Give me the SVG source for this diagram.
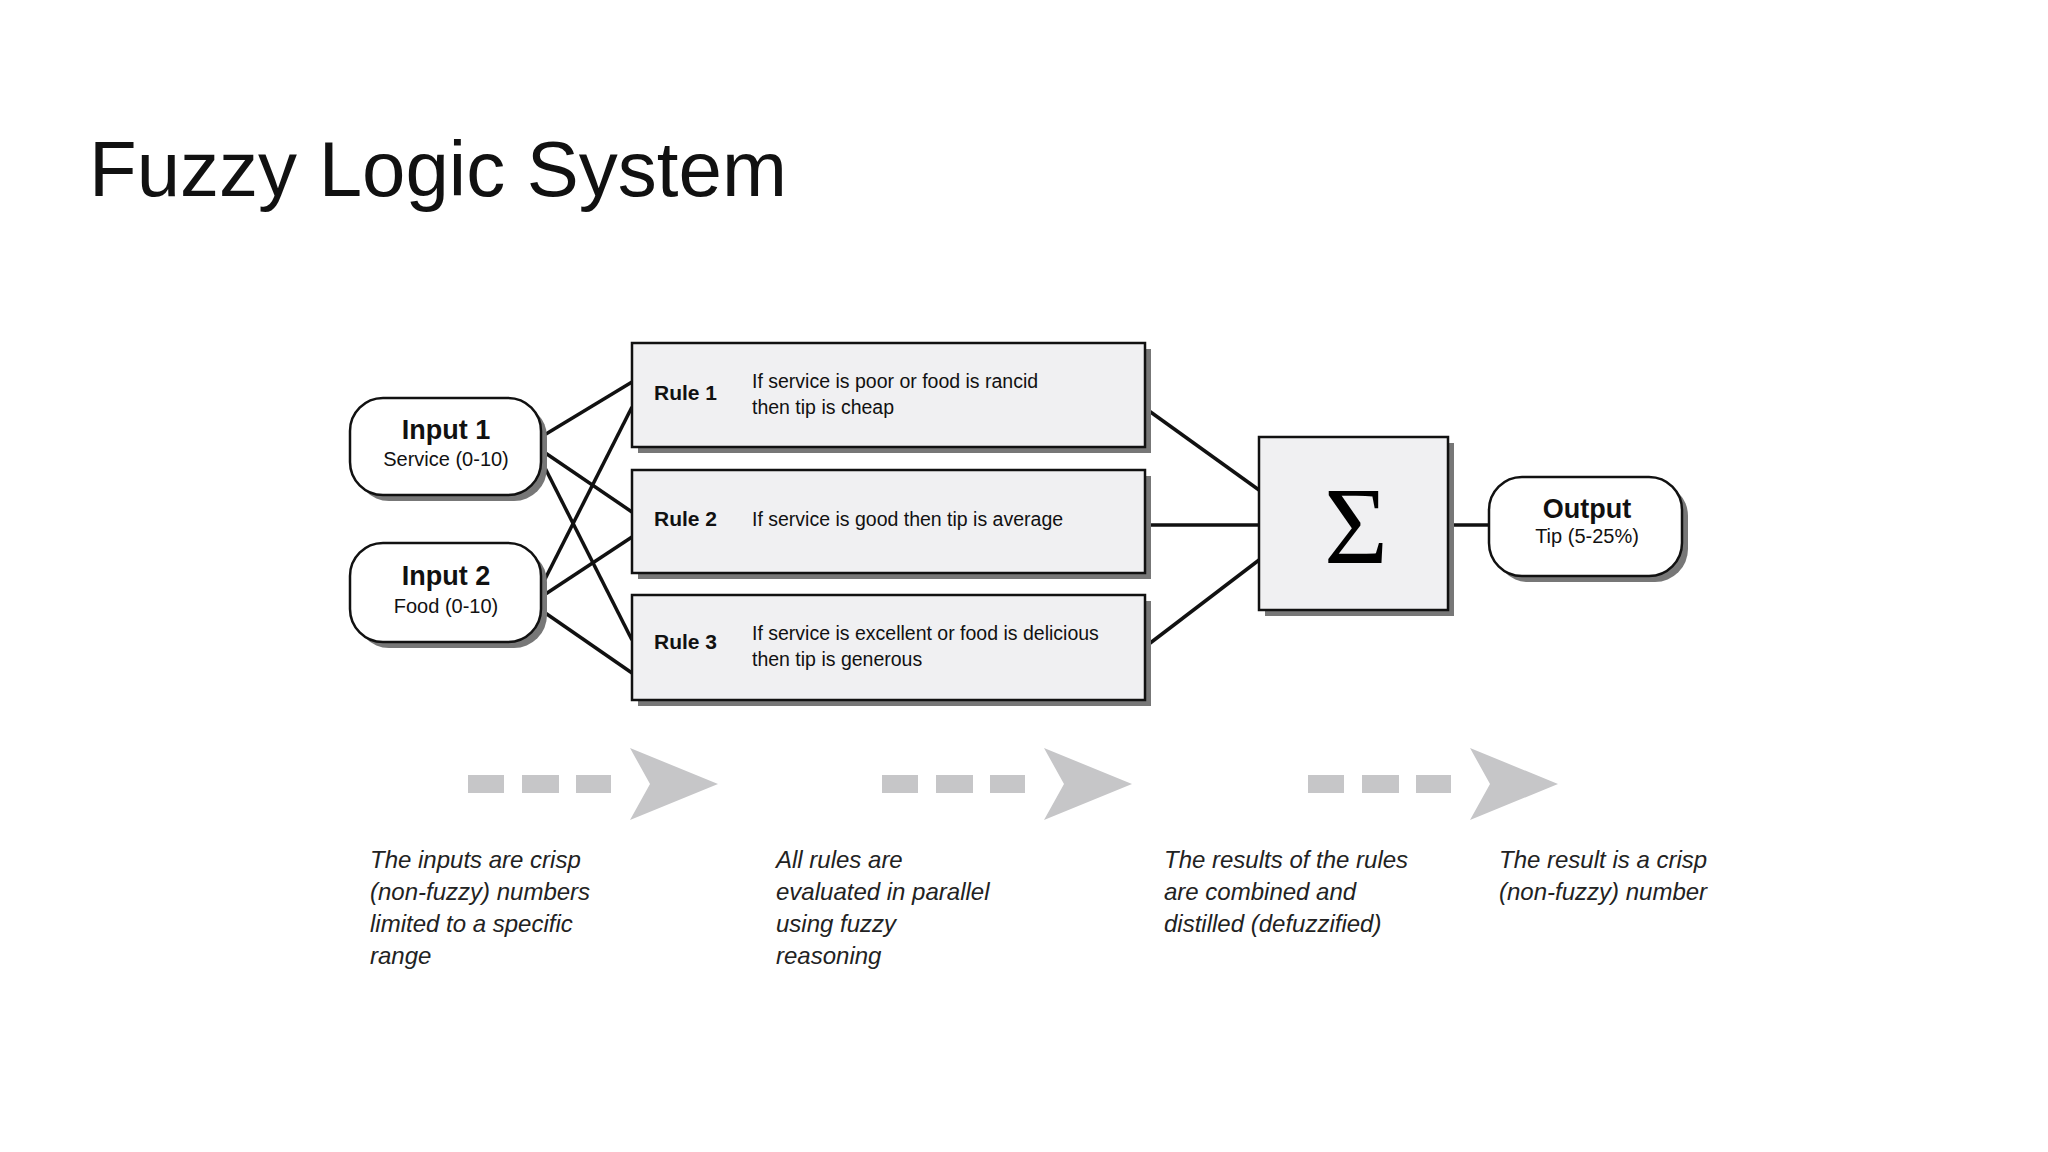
<svg xmlns="http://www.w3.org/2000/svg" width="2048" height="1152" viewBox="0 0 2048 1152">
<defs>
<style>
.box{fill:#f0f0f2;stroke:#111;stroke-width:2.5}
.rbox{fill:#fff;stroke:#111;stroke-width:2.5}
.sh{fill:#777}
.ln{stroke:#111;stroke-width:3.5;fill:none}
.t{font-family:"Liberation Sans",Arial,sans-serif;fill:#111}
.b{font-weight:bold}
.cap{font-family:"Liberation Sans",Arial,sans-serif;font-style:italic;font-size:24px;fill:#222}
.dash{fill:#c6c6c8}
</style>
<g id="arr"><rect class="dash" x="0" y="-9" width="36" height="18"/><rect class="dash" x="54" y="-9" width="37" height="18"/><rect class="dash" x="108" y="-9" width="35" height="18"/><polygon class="dash" points="162,-36 250,0 162,36 182,0"/></g>
</defs>
<rect width="2048" height="1152" fill="#fff"/>
<text class="t" x="89" y="196" font-size="78">Fuzzy Logic System</text>
<g id="connectors">
<line class="ln" x1="541" y1="437" x2="632" y2="382"/>
<line class="ln" x1="541" y1="450" x2="632" y2="512"/>
<line class="ln" x1="541" y1="460" x2="632" y2="640"/>
<line class="ln" x1="541" y1="587" x2="632" y2="407"/>
<line class="ln" x1="541" y1="597" x2="632" y2="537"/>
<line class="ln" x1="541" y1="610" x2="632" y2="673"/>
<line class="ln" x1="1145" y1="408" x2="1259" y2="490"/>
<line class="ln" x1="1145" y1="525" x2="1259" y2="525"/>
<line class="ln" x1="1145" y1="647" x2="1259" y2="560"/>
<line class="ln" x1="1448" y1="525" x2="1489" y2="525"/>
</g>
<g id="input1"><rect class="sh" x="356" y="404" width="191" height="97" rx="33"/><rect class="rbox" x="350" y="398" width="191" height="97" rx="33"/>
<text class="t b" x="446" y="439" font-size="27" text-anchor="middle">Input 1</text><text class="t" x="446" y="466" font-size="20" text-anchor="middle">Service (0-10)</text></g>
<g id="input2"><rect class="sh" x="356" y="549" width="191" height="99" rx="33"/><rect class="rbox" x="350" y="543" width="191" height="99" rx="33"/>
<text class="t b" x="446" y="585" font-size="27" text-anchor="middle">Input 2</text><text class="t" x="446" y="613" font-size="20" text-anchor="middle">Food (0-10)</text></g>
<g id="rule1"><rect class="sh" x="638" y="349" width="513" height="104"/><rect class="box" x="632" y="343" width="513" height="104"/>
<text class="t b" x="654" y="400" font-size="21">Rule 1</text><text class="t" x="752" y="388" font-size="19.5">If service is poor or food is rancid</text><text class="t" x="752" y="414" font-size="19.5">then tip is cheap</text></g>
<g id="rule2"><rect class="sh" x="638" y="476" width="513" height="103"/><rect class="box" x="632" y="470" width="513" height="103"/>
<text class="t b" x="654" y="526" font-size="21">Rule 2</text><text class="t" x="752" y="526" font-size="19.5">If service is good then tip is average</text></g>
<g id="rule3"><rect class="sh" x="638" y="601" width="513" height="105"/><rect class="box" x="632" y="595" width="513" height="105"/>
<text class="t b" x="654" y="649" font-size="21">Rule 3</text><text class="t" x="752" y="640" font-size="19.5">If service is excellent or food is delicious</text><text class="t" x="752" y="666" font-size="19.5">then tip is generous</text></g>
<g id="sigma"><rect class="sh" x="1265" y="443" width="189" height="173"/><rect class="box" x="1259" y="437" width="189" height="173"/>
<text x="1356" y="563" font-family="'Liberation Serif',serif" font-size="110" text-anchor="middle" fill="#000">Σ</text></g>
<g id="output"><rect class="sh" x="1495" y="483" width="193" height="99" rx="33"/><rect class="rbox" x="1489" y="477" width="193" height="99" rx="33"/>
<text class="t b" x="1587" y="518" font-size="27" text-anchor="middle">Output</text><text class="t" x="1587" y="543" font-size="20" text-anchor="middle">Tip (5-25%)</text></g>
<use href="#arr" x="468" y="784"/>
<use href="#arr" x="882" y="784"/>
<use href="#arr" x="1308" y="784"/>
<g id="captions">
<text class="cap"><tspan x="370" y="868">The inputs are crisp</tspan><tspan x="370" y="900">(non-fuzzy) numbers</tspan><tspan x="370" y="932">limited to a specific</tspan><tspan x="370" y="964">range</tspan></text>
<text class="cap"><tspan x="776" y="868">All rules are</tspan><tspan x="776" y="900">evaluated in parallel</tspan><tspan x="776" y="932">using fuzzy</tspan><tspan x="776" y="964">reasoning</tspan></text>
<text class="cap"><tspan x="1164" y="868">The results of the rules</tspan><tspan x="1164" y="900">are combined and</tspan><tspan x="1164" y="932">distilled (defuzzified)</tspan></text>
<text class="cap"><tspan x="1499" y="868">The result is  a crisp</tspan><tspan x="1499" y="900">(non-fuzzy) number</tspan></text>
</g>
</svg>
